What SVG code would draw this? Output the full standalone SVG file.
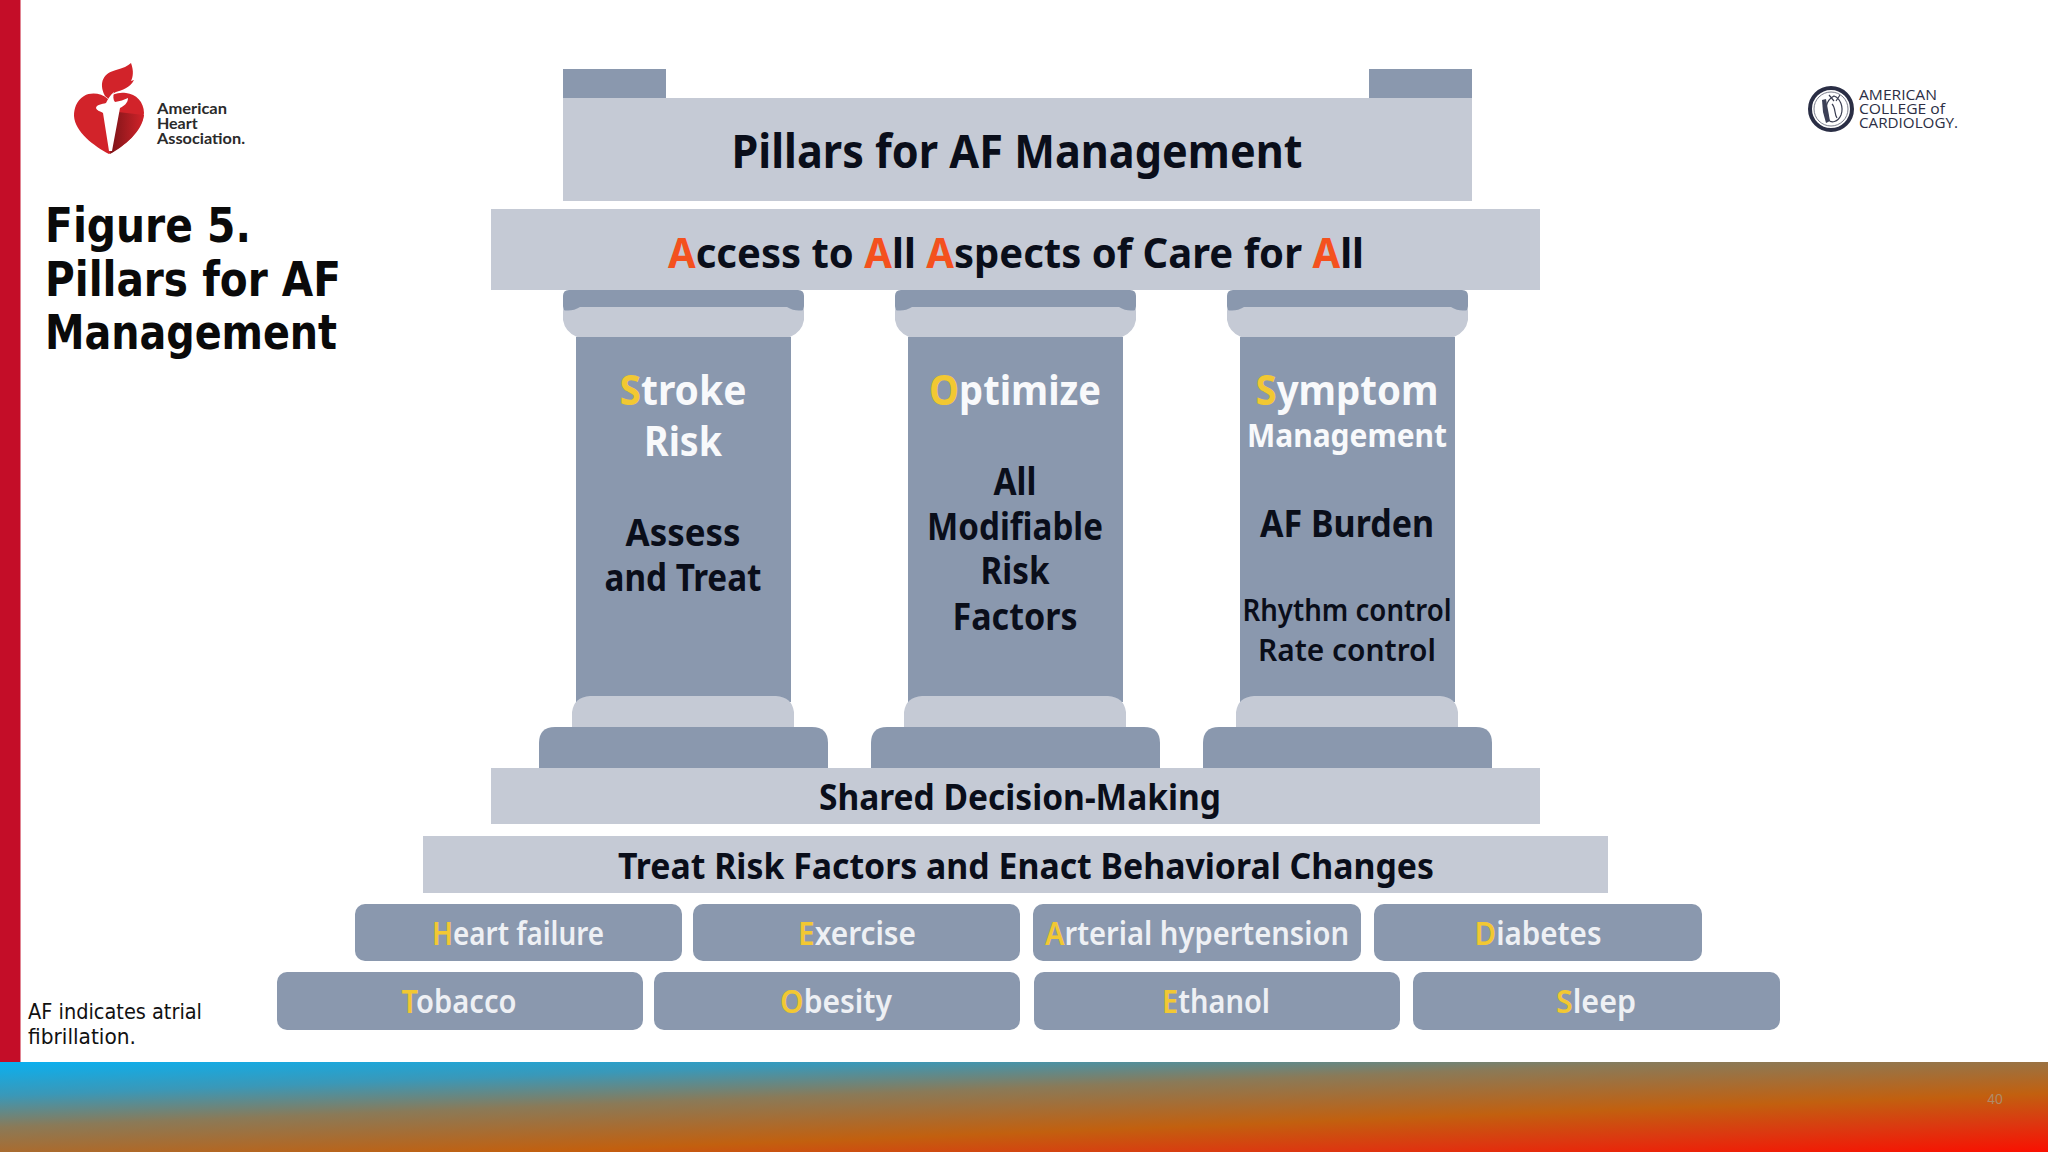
<svg xmlns="http://www.w3.org/2000/svg" xmlns:xlink="http://www.w3.org/1999/xlink" width="2048" height="1152" viewBox="0 0 2048 1152">
<style>
.d{fill:#8a98ae}.l{fill:#c5cad5}
text{font-family:"Noto Sans","DejaVu Sans",sans-serif;font-weight:700;text-anchor:middle;fill:#0a0e1a}
.w{fill:#f8f9fb}.y{fill:#f2c832}.o{fill:#f4511e}
.h{font-size:42px}.b{font-size:37px}
.r{font-size:32px;font-weight:600;fill:#eef0f4}
.t{font-family:"DejaVu Sans Condensed","DejaVu Sans",sans-serif;font-size:48px;text-anchor:start;fill:#0a0a0a}
.n{font-family:"DejaVu Sans Condensed","DejaVu Sans",sans-serif;font-size:21px;font-weight:400;text-anchor:start;fill:#111}
.a{font-family:Lato,sans-serif;font-size:16px;font-weight:700;text-anchor:start;fill:#2a2a2a}
.c{font-family:"Open Sans",sans-serif;font-size:14.5px;font-weight:400;text-anchor:start;fill:#2c2f45}
</style>
<defs>
<linearGradient id="band" gradientUnits="userSpaceOnUse" x1="0" y1="1062" x2="6.5" y2="1231">
<stop offset="0" stop-color="#0ab0f0"/><stop offset=".2" stop-color="#3a98b8"/><stop offset=".385" stop-color="#8a7a58"/><stop offset=".65" stop-color="#c2600f"/><stop offset=".82" stop-color="#dc3810"/><stop offset="1" stop-color="#fa0f00"/>
</linearGradient>
<linearGradient id="shade" x1="0" y1="0" x2="1" y2="0"><stop offset="0" stop-color="#7c1418"/><stop offset="1" stop-color="#d2232a"/></linearGradient>
<g id="pillar">
<path class="d" d="M563,296Q563,290 569,290H798Q804,290 804,296V306Q804,314 796,314H571Q563,314 563,306Z"/>
<path class="l" d="M563,310Q572,312 580,307H787Q795,312 804,310V320Q802,332 790,337H577Q565,332 563,320Z"/>
<rect class="d" x="576" y="337" width="215" height="365"/>
<path class="l" d="M572,727V712Q574,697 590,696H776Q792,697 794,712V727Z"/>
<path class="d" d="M539,768V743Q539,727 555,727H812Q828,727 828,743V768Z"/>
</g>
</defs>
<rect width="2048" height="1152" fill="#fff"/>
<rect id="red-bar" width="20.5" height="1062" fill="#c40d28"/>
<rect id="bottom-band" y="1062" width="2048" height="90" fill="url(#band)"/>
<text x="1995" y="1104" style="font-family:'Liberation Sans',sans-serif;font-size:14px;font-weight:400;fill:#b08a68">40</text>

<g id="aha-logo">
<path fill="#d2232a" d="M108,99C101,93 91,92 84,96C76,101 74,109 74,116C75,132 94,146 109,154C124,146 142,132 144,113C144,102 136,94 126,93C118,92 112,94 108,99Z"/>
<path fill="url(#shade)" d="M118,112L144,115C142,132 124,146 110,154Z"/>
<path fill="#d2232a" d="M105,96C98,82 104,73 116,70C123,68 128,66 131,63C134,71 133,77 131,81L134,80C130,88 122,90 116,92C113,93 111,97 110,100Z"/>
<path fill="#fff" d="M96,108C96,105 102,104 106,103C108,99 110,95 114,92C113,96 113,100 115,102C120,101 124,100 128,98C128,103 124,106 120,108L112,151L109,151L103,113C100,111 97,111 96,108Z"/>
<text class="a" x="157" y="114" textLength="70" lengthAdjust="spacingAndGlyphs">American</text>
<text class="a" x="157" y="129">Heart</text>
<text class="a" x="157" y="144" textLength="88" lengthAdjust="spacingAndGlyphs">Association.</text>
</g>

<g id="title">
<text class="t" x="45" y="242" textLength="206" lengthAdjust="spacingAndGlyphs">Figure 5.</text>
<text class="t" x="45" y="296" textLength="296" lengthAdjust="spacingAndGlyphs">Pillars for AF</text>
<text class="t" x="45" y="349" textLength="292" lengthAdjust="spacingAndGlyphs">Management</text>
</g>

<g id="acc-logo">
<circle cx="1831" cy="109" r="21" fill="#fff" stroke="#2a2e45" stroke-width="4"/>
<circle cx="1831" cy="109" r="17" fill="none" stroke="#5a5e70" stroke-width=".8"/>
<path fill="none" stroke="#3a3e52" stroke-width="1.2" d="M1834,96C1826,100 1824,110 1828,119C1831,124 1838,122 1841,115C1844,107 1840,98 1834,96ZM1829,95L1834,101M1840,95L1836,101M1832,104C1836,108 1834,114 1837,118"/>
<path fill="#3c4056" d="M1822,100L1826,99L1830,121L1826,123L1823,112Z"/>
<text class="c" x="1859" y="100" textLength="78" lengthAdjust="spacingAndGlyphs">AMERICAN</text>
<text class="c" x="1859" y="114" textLength="86" lengthAdjust="spacingAndGlyphs">COLLEGE of</text>
<text class="c" x="1859" y="128" textLength="99" lengthAdjust="spacingAndGlyphs">CARDIOLOGY.</text>
</g>

<g id="roof">
<rect class="d" x="563" y="69" width="103" height="29"/>
<rect class="d" x="1369" y="69" width="103" height="29"/>
<rect class="l" x="563" y="98" width="909" height="103"/>
<text x="1017" y="168" style="font-size:46px" textLength="571" lengthAdjust="spacingAndGlyphs">Pillars for AF Management</text>
</g>

<g id="pillar-stroke">
<use xlink:href="#pillar" href="#pillar"/>
<text class="h w" x="683" y="405" textLength="127" lengthAdjust="spacingAndGlyphs"><tspan class="y">S</tspan>troke</text>
<text class="h w" x="683" y="456" textLength="78" lengthAdjust="spacingAndGlyphs">Risk</text>
<text class="b" x="683" y="546" textLength="115" lengthAdjust="spacingAndGlyphs">Assess</text>
<text class="b" x="683" y="591" textLength="157" lengthAdjust="spacingAndGlyphs">and Treat</text>
</g>
<g id="pillar-optimize">
<use xlink:href="#pillar" href="#pillar" x="332"/>
<text class="h w" x="1015" y="405" textLength="172" lengthAdjust="spacingAndGlyphs"><tspan class="y">O</tspan>ptimize</text>
<text class="b" x="1015" y="495" textLength="43" lengthAdjust="spacingAndGlyphs">All</text>
<text class="b" x="1015" y="540" textLength="176" lengthAdjust="spacingAndGlyphs">Modifiable</text>
<text class="b" x="1015" y="584" textLength="69" lengthAdjust="spacingAndGlyphs">Risk</text>
<text class="b" x="1015" y="630" textLength="125" lengthAdjust="spacingAndGlyphs">Factors</text>
</g>
<g id="pillar-symptom">
<use xlink:href="#pillar" href="#pillar" x="664"/>
<text class="h w" x="1347" y="405" textLength="183" lengthAdjust="spacingAndGlyphs"><tspan class="y">S</tspan>ymptom</text>
<text class="w" x="1347" y="447" style="font-size:33px" textLength="200" lengthAdjust="spacingAndGlyphs">Management</text>
<text class="b" x="1347" y="537" textLength="174" lengthAdjust="spacingAndGlyphs">AF Burden</text>
<text x="1347" y="621" style="font-size:30px;font-weight:600" textLength="209" lengthAdjust="spacingAndGlyphs">Rhythm control</text>
<text x="1347" y="661" style="font-size:30px;font-weight:600" textLength="178" lengthAdjust="spacingAndGlyphs">Rate control</text>
</g>

<g id="access">
<rect class="l" x="491" y="209" width="1049" height="81"/>
<text x="1016" y="268" style="font-size:41px" textLength="696" lengthAdjust="spacingAndGlyphs"><tspan class="o">A</tspan>ccess to <tspan class="o">A</tspan>ll <tspan class="o">A</tspan>spects of Care for <tspan class="o">A</tspan>ll</text>
</g>
<g id="shared">
<rect class="l" x="491" y="768" width="1049" height="56"/>
<text x="1020" y="810" style="font-size:35px" textLength="402" lengthAdjust="spacingAndGlyphs">Shared Decision-Making</text>
</g>
<g id="treat">
<rect class="l" x="423" y="836" width="1185" height="57"/>
<text x="1026" y="879" style="font-size:35px" textLength="816" lengthAdjust="spacingAndGlyphs">Treat Risk Factors and Enact Behavioral Changes</text>
</g>

<g id="heart-failure"><rect class="d" x="355" y="904" width="327" height="57" rx="10"/><text class="r" x="518" y="945" textLength="172" lengthAdjust="spacingAndGlyphs"><tspan class="y">H</tspan>eart failure</text></g>
<g id="exercise"><rect class="d" x="693" y="904" width="327" height="57" rx="10"/><text class="r" x="857" y="945" textLength="118" lengthAdjust="spacingAndGlyphs"><tspan class="y">E</tspan>xercise</text></g>
<g id="arterial"><rect class="d" x="1033" y="904" width="328" height="57" rx="10"/><text class="r" x="1197" y="945" textLength="304" lengthAdjust="spacingAndGlyphs"><tspan class="y">A</tspan>rterial hypertension</text></g>
<g id="diabetes"><rect class="d" x="1374" y="904" width="328" height="57" rx="10"/><text class="r" x="1538" y="945" textLength="127" lengthAdjust="spacingAndGlyphs"><tspan class="y">D</tspan>iabetes</text></g>
<g id="tobacco"><rect class="d" x="277" y="972" width="366" height="58" rx="10"/><text class="r" x="459" y="1013" textLength="115" lengthAdjust="spacingAndGlyphs"><tspan class="y">T</tspan>obacco</text></g>
<g id="obesity"><rect class="d" x="654" y="972" width="366" height="58" rx="10"/><text class="r" x="836" y="1013" textLength="112" lengthAdjust="spacingAndGlyphs"><tspan class="y">O</tspan>besity</text></g>
<g id="ethanol"><rect class="d" x="1034" y="972" width="366" height="58" rx="10"/><text class="r" x="1216" y="1013" textLength="108" lengthAdjust="spacingAndGlyphs"><tspan class="y">E</tspan>thanol</text></g>
<g id="sleep"><rect class="d" x="1413" y="972" width="367" height="58" rx="10"/><text class="r" x="1596" y="1013" textLength="80" lengthAdjust="spacingAndGlyphs"><tspan class="y">S</tspan>leep</text></g>

<g id="note">
<text class="n" x="28" y="1019" textLength="174" lengthAdjust="spacingAndGlyphs">AF indicates atrial</text>
<text class="n" x="28" y="1044" textLength="108" lengthAdjust="spacingAndGlyphs">fibrillation.</text>
</g>
<g id="connectors"/>
</svg>
